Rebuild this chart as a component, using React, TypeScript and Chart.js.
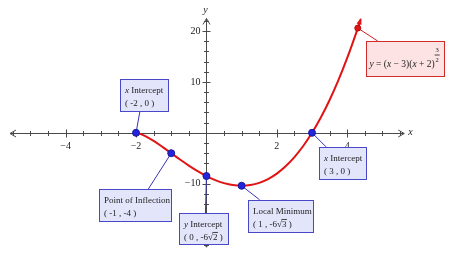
import { useEffect, useRef } from "react";
import { Chart, registerables } from "chart.js";

Chart.register(...registerables);

// y = (x - 3)(x + 2)^(3/2), sampled along the plotted branch
const curveX = [-2, -1.9, -1.75, -1.5, -1.25, -1, -0.75, -0.5, -0.25, 0, 0.25, 0.5, 0.75, 1, 1.25, 1.5, 1.75, 2, 2.25, 2.5, 2.75, 3, 3.25, 3.5, 3.75, 4, 4.25, 4.38];
const curveY = [0, -0.155, -0.594, -1.591, -2.76, -4, -5.241, -6.43, -7.524, -8.485, -9.281, -9.882, -10.261, -10.392, -10.253, -9.822, -9.077, -8, -6.571, -4.773, -2.588, 0, 3.007, 6.449, 10.341, 14.697, 19.531, 22.24];

// Key points of the curve and their callout texts
const keyX = [-2, -1, 0, 1, 3];
const keyY = [0, -4, -8.485, -10.392, 0];
const keyTitles = ["x Intercept", "Point of Inflection", "y Intercept", "Local Minimum", "x Intercept"];
const keyCoords = ["( -2 , 0 )", "( -1 , -4 )", "( 0 , -6√2 )", "( 1 , -6√3 )", "( 3 , 0 )"];

// Point carrying the equation callout
const eqX = [4.3];
const eqY = [20.56];

const xTickLabels = [-4, -2, 2, 4];
const yTickLabels = [20, 10, -10];

// Callout box placement relative to its point (px): offset, size, leader attach
const calloutBoxes = [
  { dx: -16, dy: -54, w: 48, h: 32, ax: 20, ay: 32 },
  { dx: -72, dy: 36, w: 72, h: 32, ax: 49, ay: 0 },
  { dx: -27, dy: 37, w: 49, h: 31, ax: 26, ay: 0 },
  { dx: 6, dy: 14, w: 65, h: 32, ax: 12, ay: 0 },
  { dx: 7, dy: 14, w: 47, h: 32, ax: 7, ay: 0 },
];
const eqBox = { dx: 8, dy: 13, w: 78, h: 35, ax: 12, ay: 0 };

const SERIF = '"Liberation Serif", "Times New Roman", serif';
const font = (size: number, italic = false) => `${italic ? "italic " : ""}${size}px ${SERIF}`;

type Seg = { t: string; italic?: boolean; over?: boolean };

function titleSegs(s: string): Seg[] {
  if (/^[xy] /.test(s)) return [{ t: s[0], italic: true }, { t: s.slice(1) }];
  return [{ t: s }];
}

function coordSegs(s: string): Seg[] {
  const i = s.indexOf("√");
  if (i < 0) return [{ t: s }];
  return [{ t: s.slice(0, i) }, { t: "√" }, { t: s[i + 1], over: true }, { t: s.slice(i + 2) }];
}

function drawRich(ctx: CanvasRenderingContext2D, segs: Seg[], x: number, y: number, size: number) {
  let cx = x;
  for (const sg of segs) {
    ctx.font = font(size, sg.italic);
    ctx.fillText(sg.t, cx, y);
    const w = ctx.measureText(sg.t).width;
    if (sg.over) {
      ctx.save();
      ctx.lineWidth = 0.8;
      ctx.strokeStyle = ctx.fillStyle as string;
      ctx.beginPath();
      ctx.moveTo(cx - 0.5, y - size * 0.78);
      ctx.lineTo(cx + w + 0.5, y - size * 0.78);
      ctx.stroke();
      ctx.restore();
    }
    cx += w;
  }
  return cx;
}

const AXIS = "#4a4a4a";
const TEXT = "#1c1c1c";

const graphPlugin = {
  id: "graphDecor",
  beforeDatasetsDraw(chart: any) {
    const { ctx } = chart;
    const sx = chart.scales.x;
    const sy = chart.scales.y;
    const X = (v: number) => sx.getPixelForValue(v);
    const Y = (v: number) => sy.getPixelForValue(v);
    const ox = Math.round(X(0)) + 0.5;
    const oy = Math.round(Y(0)) + 0.5;
    ctx.save();
    ctx.strokeStyle = AXIS;
    ctx.lineWidth = 1;

    // axis lines
    const xl = X(-5.58), xr = X(5.62), yt = Y(22.45), yb = Y(-22.45);
    ctx.beginPath();
    ctx.moveTo(xl, oy); ctx.lineTo(xr, oy);
    ctx.moveTo(ox, yt); ctx.lineTo(ox, yb);
    ctx.stroke();

    // open arrowheads
    ctx.beginPath();
    ctx.moveTo(xr - 6, oy - 3.5); ctx.lineTo(xr, oy); ctx.lineTo(xr - 6, oy + 3.5);
    ctx.moveTo(xl + 6, oy - 3.5); ctx.lineTo(xl, oy); ctx.lineTo(xl + 6, oy + 3.5);
    ctx.moveTo(ox - 3.5, yt + 6); ctx.lineTo(ox, yt); ctx.lineTo(ox + 3.5, yt + 6);
    ctx.moveTo(ox - 3.5, yb - 6); ctx.lineTo(ox, yb); ctx.lineTo(ox + 3.5, yb - 6);
    ctx.stroke();

    // x ticks every 0.5
    ctx.beginPath();
    for (let k = -11; k <= 11; k++) {
      if (k === 0) continue;
      const v = k / 2;
      const px = Math.round(X(v)) + 0.5;
      const len = xTickLabels.includes(v) ? 4 : 2.5;
      ctx.moveTo(px, oy - len); ctx.lineTo(px, oy + len);
    }
    // y ticks every 2
    for (let k = -11; k <= 11; k++) {
      if (k === 0) continue;
      const v = k * 2;
      const py = Math.round(Y(v)) + 0.5;
      const len = yTickLabels.includes(v) ? 4 : 2.5;
      ctx.moveTo(ox - len, py); ctx.lineTo(ox + len, py);
    }
    ctx.stroke();

    // tick labels
    ctx.fillStyle = TEXT;
    ctx.font = font(10);
    ctx.textBaseline = "middle";
    ctx.textAlign = "center";
    for (const v of xTickLabels) {
      ctx.fillText(v < 0 ? `\u2212${-v}` : `${v}`, X(v), oy + 13);
    }
    ctx.textAlign = "right";
    for (const v of yTickLabels) {
      ctx.fillText(v < 0 ? `\u2212${-v}` : `${v}`, ox - 6, Y(v));
    }
    // axis names
    ctx.font = font(10, true);
    ctx.textAlign = "left";
    ctx.fillText("x", xr + 4, oy - 1);
    ctx.textAlign = "center";
    ctx.fillText("y", ox - 1, yt - 8);

    // leader lines
    ctx.lineWidth = 1;
    ctx.strokeStyle = "#3434b8";
    keyX.forEach((kx, i) => {
      const b = calloutBoxes[i];
      const px = X(kx), py = Y(keyY[i]);
      ctx.beginPath();
      ctx.moveTo(px, py);
      ctx.lineTo(px + b.dx + b.ax, py + b.dy + b.ay);
      ctx.stroke();
    });
    ctx.strokeStyle = "#d42020";
    {
      const px = X(eqX[0]), py = Y(eqY[0]);
      ctx.beginPath();
      ctx.moveTo(px, py);
      ctx.lineTo(px + eqBox.dx + eqBox.ax, py + eqBox.dy + eqBox.ay);
      ctx.stroke();
    }
    ctx.restore();
  },
  afterDatasetsDraw(chart: any) {
    const { ctx } = chart;
    const sx = chart.scales.x;
    const sy = chart.scales.y;
    const X = (v: number) => sx.getPixelForValue(v);
    const Y = (v: number) => sy.getPixelForValue(v);
    ctx.save();

    // arrowhead at the end of the curve
    const n = curveX.length;
    const tx = X(curveX[n - 1]), ty = Y(curveY[n - 1]);
    const bx = X(curveX[n - 2]), by = Y(curveY[n - 2]);
    const ang = Math.atan2(ty - by, tx - bx);
    ctx.fillStyle = "#e01414";
    ctx.beginPath();
    ctx.moveTo(tx + Math.cos(ang) * 2, ty + Math.sin(ang) * 2);
    ctx.lineTo(tx - Math.cos(ang) * 5 + Math.sin(ang) * 2.6, ty - Math.sin(ang) * 5 - Math.cos(ang) * 2.6);
    ctx.lineTo(tx - Math.cos(ang) * 5 - Math.sin(ang) * 2.6, ty - Math.sin(ang) * 5 + Math.cos(ang) * 2.6);
    ctx.closePath();
    ctx.fill();

    // key-point callouts
    ctx.textAlign = "left";
    ctx.textBaseline = "alphabetic";
    keyX.forEach((kx, i) => {
      const b = calloutBoxes[i];
      const left = Math.round(X(kx) + b.dx) + 0.5;
      const top = Math.round(Y(keyY[i]) + b.dy) + 0.5;
      ctx.fillStyle = "#e3e5fb";
      ctx.fillRect(left, top, b.w, b.h);
      ctx.strokeStyle = "#4848c8";
      ctx.lineWidth = 1;
      ctx.strokeRect(left, top, b.w, b.h);
      ctx.fillStyle = TEXT;
      drawRich(ctx, titleSegs(keyTitles[i]), left + 4.5, top + 13.5, 9);
      drawRich(ctx, coordSegs(keyCoords[i]), left + 4.5, top + 26, 9);
    });

    // equation callout
    {
      const left = Math.round(X(eqX[0]) + eqBox.dx) + 0.5;
      const top = Math.round(Y(eqY[0]) + eqBox.dy) + 0.5;
      ctx.fillStyle = "#fde3e3";
      ctx.fillRect(left, top, eqBox.w, eqBox.h);
      ctx.strokeStyle = "#d42a2a";
      ctx.lineWidth = 1;
      ctx.strokeRect(left, top, eqBox.w, eqBox.h);
      ctx.fillStyle = TEXT;
      const segs: Seg[] = [
        { t: "y", italic: true }, { t: " = (" }, { t: "x", italic: true }, { t: " \u2212 3)(" },
        { t: "x", italic: true }, { t: " + 2)" },
      ];
      const end = drawRich(ctx, segs, left + 3, top + 25, 9.5);
      // 3/2 exponent as a small stacked fraction
      ctx.font = font(6.5);
      ctx.textAlign = "center";
      const fx = end + 2.5;
      ctx.fillText("3", fx, top + 10.5);
      ctx.fillText("2", fx, top + 20);
      ctx.lineWidth = 0.8;
      ctx.strokeStyle = TEXT;
      ctx.beginPath();
      ctx.moveTo(fx - 2.5, top + 13.5);
      ctx.lineTo(fx + 2.5, top + 13.5);
      ctx.stroke();
    }
    ctx.restore();
  },
};

export default function App() {
  const canvasRef = useRef<HTMLCanvasElement | null>(null);

  useEffect(() => {
    const canvas = canvasRef.current;
    if (!canvas) return;
    const chart = new Chart(canvas, {
      type: "scatter",
      data: {
        datasets: [
          {
            label: "key points",
            data: keyX.map((x, i) => ({ x, y: keyY[i] })),
            pointRadius: 3.5,
            pointBackgroundColor: "#2424dc",
            pointBorderColor: "#1a1a9c",
            pointBorderWidth: 1,
            showLine: false,
          },
          {
            label: "equation point",
            data: eqX.map((x, i) => ({ x, y: eqY[i] })),
            pointRadius: 3,
            pointBackgroundColor: "#e01414",
            pointBorderColor: "#b00e0e",
            pointBorderWidth: 1,
            showLine: false,
          },
          {
            label: "curve",
            data: curveX.map((x, i) => ({ x, y: curveY[i] })),
            showLine: true,
            borderColor: "#e01414",
            borderWidth: 2,
            pointRadius: 0,
            cubicInterpolationMode: "monotone",
            fill: false,
          },
        ],
      },
      options: {
        animation: false,
        responsive: false,
        events: [],
        layout: { padding: 0 },
        plugins: { legend: { display: false }, tooltip: { enabled: false } },
        scales: {
          x: { type: "linear", display: false, min: -206 / 36, max: 244 / 36 },
          y: { type: "linear", display: false, min: -124 / 5.3, max: 133 / 5.3 },
        },
      },
      plugins: [graphPlugin],
    });
    return () => chart.destroy();
  }, []);

  return (
    <div style={{ position: "absolute", left: 0, top: 0, width: 450, height: 257, background: "#ffffff" }}>
      <canvas ref={canvasRef} width={450} height={257} />
    </div>
  );
}
